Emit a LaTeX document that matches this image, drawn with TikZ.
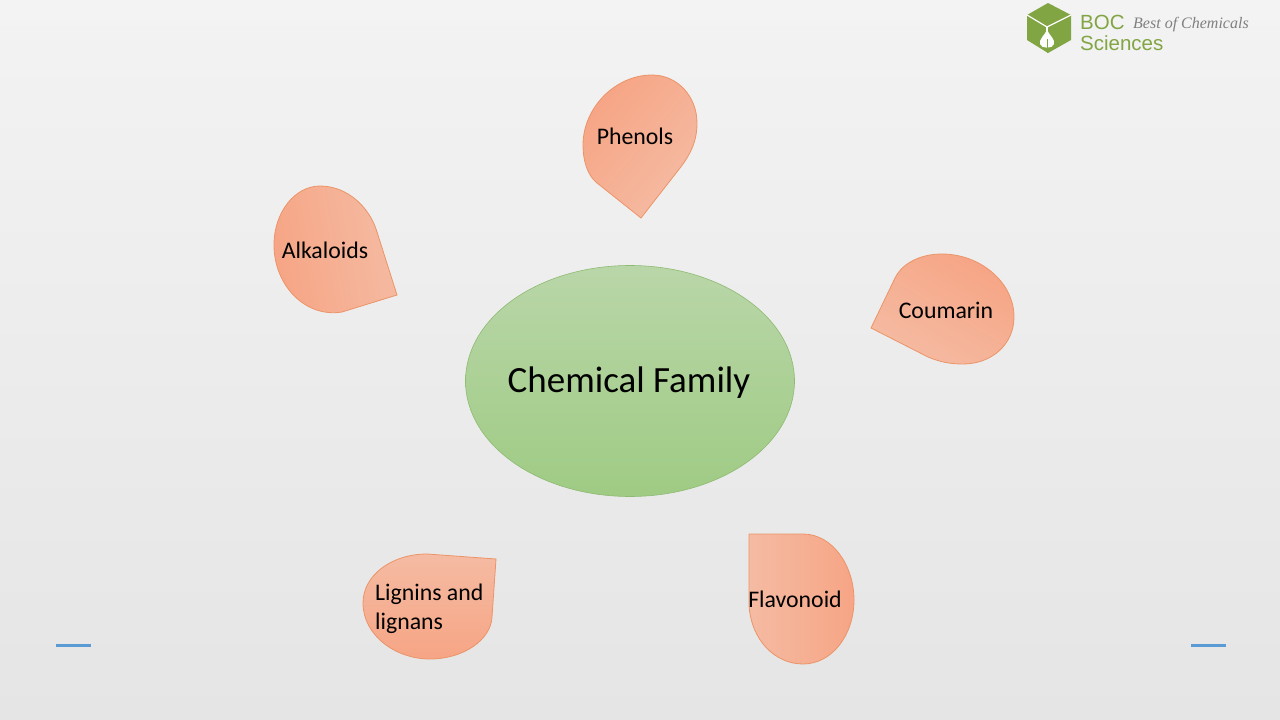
\documentclass[tikz,border=0pt]{standalone}
\usepackage{fontspec}
\setmainfont{Carlito}
\newfontfamily\logofont{Liberation Sans}
\newfontfamily\sloganfont{Liberation Serif}
\usetikzlibrary{shapes.geometric}
\definecolor{pageTop}{HTML}{F3F3F3}
\definecolor{pageBottom}{HTML}{E5E5E5}
\definecolor{familyTop}{HTML}{B9D6A8}
\definecolor{familyBottom}{HTML}{9FCB84}
\definecolor{familyEdge}{HTML}{8DBB72}
\definecolor{petalDark}{HTML}{F6A585}
\definecolor{petalLight}{HTML}{F5BBA3}
\definecolor{petalEdge}{HTML}{EB9468}
\definecolor{logoGreen}{HTML}{82A544}
\definecolor{slideBlue}{HTML}{5B9BD5}
\tikzset{
	petal/.style={draw=petalEdge, line width=0.8pt, top color=petalDark, bottom color=petalLight},
	petaltext/.style={inner sep=0pt, font=\fontsize{23.8}{29}\selectfont, text=black},
	logotext/.style={inner sep=0pt, anchor=base west, text=logoGreen, font=\logofont\fontsize{20.5}{22}\selectfont},
	slide/.style={fill=slideBlue, draw=none}
}

\begin{document}
\begin{tikzpicture}[x=1pt, y=-1pt]
			%%%%% START %%%%%
			
			\shade[top color=pageTop, bottom color=pageBottom] (0, 0) rectangle (1280, 720);
			\useasboundingbox (0, 0) rectangle (1280, 720);
			
			\node[ellipse, minimum width=329pt, minimum height=231pt, inner sep=0pt, draw=familyEdge, line width=0.6pt,
				top color=familyTop, bottom color=familyBottom, shading angle=0] (family) at (630, 381) {};
			\node[inner sep=0pt, font=\fontsize{37}{40}\selectfont] (familytext) at (629, 383) {Chemical Family};
			
			\draw[petal, shading angle=50] (641, 218) -- (597, 183) .. controls (587, 175) and (583, 160) .. (583, 145)
				.. controls (583, 108) and (615, 75) .. (652, 75) .. controls (678, 75) and (697, 97) .. (697, 123)
				.. controls (697, 142) and (690, 155) .. (680, 168) -- cycle;
			\node[petaltext] (phenols) at (635, 136) {Phenols};
			
			\draw[petal, shading angle=100] (397, 295) -- (342, 312) .. controls (305, 318) and (274, 285) .. (274, 245)
				.. controls (274, 212) and (295, 186) .. (320, 186) .. controls (348, 186) and (370, 208) .. (377, 232) -- cycle;
			\node[petaltext] (alkaloids) at (325, 250) {Alkaloids};
			
			\draw[petal, shading angle=-30] (871, 328) -- (895, 278) .. controls (903, 262) and (922, 254) .. (942, 254)
				.. controls (980, 254) and (1014, 282) .. (1014, 317) .. controls (1014, 344) and (992, 364) .. (963, 364)
				.. controls (950, 364) and (940, 362) .. (928, 357) -- cycle;
			\node[petaltext] (coumarin) at (946, 310) {Coumarin};
			
			\draw[petal, shading angle=180] (496, 559) -- (427, 554) .. controls (392, 554) and (363, 575) .. (363, 603)
				.. controls (363, 635) and (395, 659) .. (430, 659) .. controls (463, 659) and (491, 640) .. (492, 617) -- cycle;
			\node[petaltext, align=left, anchor=west] (lignins) at (375, 609) {Lignins and\\lignans};
			
			\draw[petal, shading angle=-90] (749, 534) -- (803, 534) .. controls (832, 534) and (854, 565) .. (854, 600)
				.. controls (854, 635) and (832, 664) .. (803, 664) .. controls (775, 664) and (751, 640) .. (749, 605) -- cycle;
			\node[petaltext] (flavonoid) at (795, 599) {Flavonoid};
			
			\fill[logoGreen] (1048, 3) -- (1071, 15) -- (1071, 40) -- (1048, 53) -- (1027, 40) -- (1027, 15) -- cycle;
			\draw[white, line width=1.2pt] (1027, 15) -- (1047, 27) -- (1071, 15);
			\draw[white, line width=1.2pt] (1047, 27) -- (1047, 32);
			\fill[white] (1047, 30) .. controls (1050, 36) and (1055, 39) .. (1054, 44) .. controls (1053, 49) and (1041, 49) .. (1040, 44)
				.. controls (1039, 39) and (1044, 36) .. (1047, 30) -- cycle;
			\draw[logoGreen, line width=0.8pt] (1047, 39) -- (1047, 53);
			\node[logotext] (boc) at (1080, 29) {BOC};
			\node[logotext] (sciences) at (1080, 50) {Sciences};
			\node[inner sep=0pt, anchor=base west, text=black!50, font=\sloganfont\itshape\fontsize{16}{18}\selectfont] (slogan) at (1133, 28) {Best of Chemicals};
			
			\fill[slide] (56, 644) rectangle (91, 647);
			\fill[slide] (1191, 644) rectangle (1226, 647);
			
			%%%%% END %%%%%
\end{tikzpicture}
\end{document}
